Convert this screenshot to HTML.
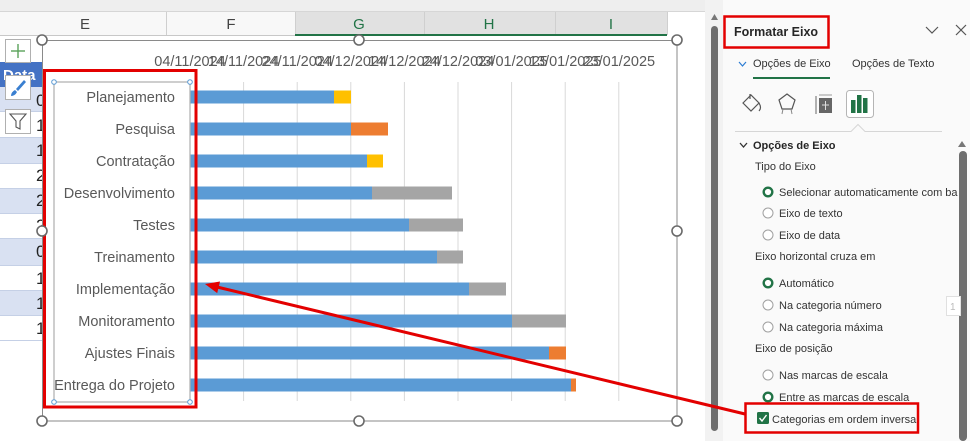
<!DOCTYPE html>
<html><head><meta charset="utf-8"><style>
html,body{margin:0;padding:0;background:#fff;}
svg{display:block;}
text{font-family:"Liberation Sans",Arial,sans-serif;}
</style></head><body>
<svg width="970" height="441" viewBox="0 0 970 441" xmlns="http://www.w3.org/2000/svg">
<rect x="0" y="0" width="970" height="441" fill="#fff"/>
<!-- top strip -->
<rect x="0" y="0" width="705" height="11" fill="#eeeeee"/>
<line x1="0" y1="11.5" x2="705" y2="11.5" stroke="#d6d6d6"/>
<!-- column header -->
<rect x="0" y="12" width="295" height="23" fill="#f8f8f8"/>
<rect x="295" y="12" width="372" height="23" fill="#e1e1e1"/>
<g stroke="#cfcfcf"><line x1="166.5" y1="12" x2="166.5" y2="35"/><line x1="295.5" y1="12" x2="295.5" y2="35"/><line x1="424.5" y1="12" x2="424.5" y2="35"/><line x1="555.5" y1="12" x2="555.5" y2="35"/><line x1="667.5" y1="12" x2="667.5" y2="35"/></g>
<line x1="0" y1="35.5" x2="295" y2="35.5" stroke="#c8c8c8"/>
<rect x="295" y="34" width="372" height="2" fill="#217346"/>
<g font-size="15" text-anchor="middle">
<text x="85" y="29" fill="#444">E</text><text x="231" y="29" fill="#444">F</text>
<text x="359" y="29" fill="#217346">G</text><text x="489" y="29" fill="#217346">H</text><text x="611" y="29" fill="#217346">I</text>
</g>
<!-- left table cells -->
<rect x="0" y="62" width="42" height="25" fill="#4472c4"/>
<text x="3" y="80" font-size="15" font-weight="bold" fill="#fff">Data</text>
<rect x="0" y="87" width="42" height="24" fill="#d9e1f2"/>
<rect x="0" y="137" width="42" height="26" fill="#d9e1f2"/>
<rect x="0" y="188" width="42" height="25" fill="#d9e1f2"/>
<rect x="0" y="238" width="42" height="27" fill="#d9e1f2"/>
<rect x="0" y="290" width="42" height="25" fill="#d9e1f2"/>
<g stroke="#c5d0e6"><line x1="0" y1="111.5" x2="42" y2="111.5"/><line x1="0" y1="137.5" x2="42" y2="137.5"/><line x1="0" y1="163.5" x2="42" y2="163.5"/><line x1="0" y1="188.5" x2="42" y2="188.5"/><line x1="0" y1="213.5" x2="42" y2="213.5"/><line x1="0" y1="238.5" x2="42" y2="238.5"/><line x1="0" y1="265.5" x2="42" y2="265.5"/><line x1="0" y1="290.5" x2="42" y2="290.5"/><line x1="0" y1="315.5" x2="42" y2="315.5"/><line x1="0" y1="340.5" x2="42" y2="340.5"/></g>
<g font-size="17" fill="#222">
<text x="36" y="106">0</text><text x="36" y="131">1</text><text x="36" y="156">1</text><text x="36" y="181">2</text><text x="36" y="206">2</text><text x="36" y="231">2</text><text x="36" y="257">0</text><text x="36" y="284">1</text><text x="36" y="309">1</text><text x="36" y="334">1</text>
</g>
<!-- chart area -->
<rect x="42.5" y="40.5" width="634.5" height="380.5" fill="#fff" stroke="#8a8a8a" stroke-width="1"/>
<g stroke="#d9d9d9" stroke-width="1">
<line x1="243.6" y1="82" x2="243.6" y2="401"/><line x1="297.2" y1="82" x2="297.2" y2="401"/><line x1="350.8" y1="82" x2="350.8" y2="401"/><line x1="404.4" y1="82" x2="404.4" y2="401"/><line x1="458" y1="82" x2="458" y2="401"/><line x1="511.6" y1="82" x2="511.6" y2="401"/><line x1="565.2" y1="82" x2="565.2" y2="401"/><line x1="618.8" y1="82" x2="618.8" y2="401"/>
</g>
<g font-size="14.5" fill="#595959" text-anchor="middle">
<text x="190" y="66">04/11/2024</text><text x="243.6" y="66">14/11/2024</text><text x="297.2" y="66">24/11/2024</text><text x="350.8" y="66">04/12/2024</text><text x="404.4" y="66">14/12/2024</text><text x="458" y="66">24/12/2024</text><text x="511.6" y="66">03/01/2025</text><text x="565.2" y="66">13/01/2025</text><text x="618.8" y="66">23/01/2025</text>
</g>
<!-- bars -->
<g>
<rect x="190" y="90.5" width="144" height="13" fill="#5b9bd5"/><rect x="334" y="90.5" width="17" height="13" fill="#ffc000"/>
<rect x="190" y="122.5" width="161" height="13" fill="#5b9bd5"/><rect x="351" y="122.5" width="37" height="13" fill="#ed7d31"/>
<rect x="190" y="154.5" width="177" height="13" fill="#5b9bd5"/><rect x="367" y="154.5" width="16" height="13" fill="#ffc000"/>
<rect x="190" y="186.5" width="182" height="13" fill="#5b9bd5"/><rect x="372" y="186.5" width="80" height="13" fill="#a5a5a5"/>
<rect x="190" y="218.5" width="219" height="13" fill="#5b9bd5"/><rect x="409" y="218.5" width="54" height="13" fill="#a5a5a5"/>
<rect x="190" y="250.5" width="247" height="13" fill="#5b9bd5"/><rect x="437" y="250.5" width="26" height="13" fill="#a5a5a5"/>
<rect x="190" y="282.5" width="279" height="13" fill="#5b9bd5"/><rect x="469" y="282.5" width="37" height="13" fill="#a5a5a5"/>
<rect x="190" y="314.5" width="322" height="13" fill="#5b9bd5"/><rect x="512" y="314.5" width="54" height="13" fill="#a5a5a5"/>
<rect x="190" y="346.5" width="359" height="13" fill="#5b9bd5"/><rect x="549" y="346.5" width="17" height="13" fill="#ed7d31"/>
<rect x="190" y="378.5" width="381" height="13" fill="#5b9bd5"/><rect x="571" y="378.5" width="5" height="13" fill="#ed7d31"/>
</g>
<!-- category labels -->
<g font-size="14.5" fill="#595959" text-anchor="end">
<text x="175" y="102">Planejamento</text><text x="175" y="134">Pesquisa</text><text x="175" y="166">Contratação</text><text x="175" y="198">Desenvolvimento</text><text x="175" y="230">Testes</text><text x="175" y="262">Treinamento</text><text x="175" y="294">Implementação</text><text x="175" y="326">Monitoramento</text><text x="175" y="358">Ajustes Finais</text><text x="175" y="390">Entrega do Projeto</text>
</g>
<!-- label selection box -->
<rect x="54" y="82" width="136" height="320" fill="none" stroke="#b3b3b3" stroke-width="1.3"/>
<g fill="#fff" stroke="#5b9bd5" stroke-width="1"><circle cx="54" cy="82" r="2.3"/><circle cx="190" cy="82" r="2.3"/><circle cx="54" cy="402" r="2.3"/><circle cx="190" cy="402" r="2.3"/></g>
<!-- red highlight box -->
<rect x="44.5" y="70.5" width="151.5" height="336.5" fill="none" stroke="#e30000" stroke-width="3"/>
<!-- chart handles -->
<g fill="#fff" stroke="#6a6a6a" stroke-width="1.6">
<circle cx="42" cy="40" r="5"/><circle cx="359" cy="40" r="5"/><circle cx="677" cy="40" r="5"/><circle cx="42" cy="231" r="5"/><circle cx="677" cy="231" r="5"/><circle cx="42" cy="421" r="5"/><circle cx="359" cy="421" r="5"/><circle cx="677" cy="421" r="5"/>
</g>
<!-- chart buttons -->
<g fill="#fff" stroke="#b0b0b0" stroke-width="1">
<rect x="5.5" y="39.5" width="25" height="23"/><rect x="5.5" y="75.5" width="25" height="24"/><rect x="5.5" y="109.5" width="25" height="24"/>
</g>
<g stroke="#5ba35b" stroke-width="1.4"><line x1="18" y1="44" x2="18" y2="58"/><line x1="11" y1="51" x2="25" y2="51"/></g>
<path d="M24 80 L16 89 L18 91 L26 82 Z" fill="#3a7fd0"/>
<path d="M15 90 Q11 92 11 96 Q15 96 17 92 Z" fill="#3a7fd0"/>
<path d="M10 114 L26 114 L20 121 L20 129 L16 127 L16 121 Z" fill="none" stroke="#555" stroke-width="1.1"/>
<!-- scrollbar column -->
<rect x="705" y="0" width="18" height="441" fill="#f2f2f2"/>
<path d="M711 20 L714.5 14 L718 20 Z" fill="#777"/>
<rect x="711" y="26" width="7" height="405" rx="3.5" fill="#6e6e6e"/>
<!-- pane -->
<rect x="723" y="0" width="247" height="441" fill="#fafafa"/>
<rect x="724.5" y="16.5" width="104" height="31" fill="none" stroke="#e30000" stroke-width="2.5"/>
<text x="734" y="36" font-size="12.5" font-weight="bold" fill="#262626">Formatar Eixo</text>
<polyline points="926,27 932,33 938,27" fill="none" stroke="#555" stroke-width="1.2"/>
<g stroke="#555" stroke-width="1.2"><line x1="956" y1="25" x2="966" y2="35"/><line x1="966" y1="25" x2="956" y2="35"/></g>
<polyline points="739,62 742.5,66 746,62" fill="none" stroke="#2b7cd3" stroke-width="1.2"/>
<g font-size="11" fill="#333">
<text x="753" y="67">Opções de Eixo</text><text x="852" y="67">Opções de Texto</text>
</g>
<rect x="753" y="77" width="77" height="2" fill="#217346"/>
<!-- icons -->
<path d="M743 103 L751 95 L759 103 L751 111 Z" fill="none" stroke="#555" stroke-width="1.2"/>
<path d="M750 94 L750 99" stroke="#555" stroke-width="1.2"/>
<path d="M759 103 Q762 108 759 111" fill="none" stroke="#555" stroke-width="1.2"/>
<path d="M787 94 L795 100 L792 109 L782 109 L779 100 Z" fill="none" stroke="#555" stroke-width="1.2"/>
<path d="M783 109 L782 114 M791 109 L792 114" stroke="#888" stroke-width="1"/>
<line x1="816" y1="96" x2="816" y2="114" stroke="#666"/>
<rect x="819" y="98" width="13" height="15" fill="#666"/>
<path d="M822 105 L829 105 M825.5 101 L825.5 110" stroke="#ddd" stroke-width="1"/>
<line x1="819" y1="95" x2="832" y2="95" stroke="#999"/>
<rect x="846.5" y="90.5" width="27" height="27" rx="3" fill="#fff" stroke="#b5b5b5"/>
<rect x="851" y="100" width="4.5" height="13" fill="#217346"/><rect x="857" y="95" width="4.5" height="18" fill="#217346"/><rect x="863" y="98" width="4.5" height="15" fill="#217346"/>
<polyline points="735,131.5 851,131.5 858,124.5 865,131.5 942,131.5" fill="none" stroke="#d6d6d6"/>
<!-- section -->
<polyline points="740,143 743.5,147 747,143" fill="none" stroke="#333" stroke-width="1.3"/>
<text x="753" y="149" font-size="11" font-weight="bold" fill="#262626">Opções de Eixo</text>
<path d="M958 147 L962 141 L966 147 Z" fill="#777"/>
<rect x="959" y="151" width="8" height="290" rx="4" fill="#6e6e6e"/>
<g font-size="11" fill="#333">
<text x="755" y="170">Tipo do Eixo</text>
<text x="779" y="196">Selecionar automaticamente com ba</text>
<text x="779" y="217">Eixo de texto</text>
<text x="779" y="239">Eixo de data</text>
<text x="755" y="260">Eixo horizontal cruza em</text>
<text x="779" y="287">Automático</text>
<text x="779" y="309">Na categoria número</text>
<text x="779" y="331">Na categoria máxima</text>
<text x="755" y="352">Eixo de posição</text>
<text x="779" y="379">Nas marcas de escala</text>
<text x="779" y="401">Entre as marcas de escala</text>
<text x="772" y="423">Categorias em ordem inversa</text>
</g>
<g fill="#fff" stroke="#217346" stroke-width="2.4"><circle cx="768" cy="192" r="4.3"/><circle cx="768" cy="283" r="4.3"/><circle cx="768" cy="397" r="4.3"/></g>
<g fill="#fff" stroke="#a0a0a0" stroke-width="1"><circle cx="768" cy="213" r="5"/><circle cx="768" cy="235" r="5"/><circle cx="768" cy="305" r="5"/><circle cx="768" cy="327" r="5"/><circle cx="768" cy="375" r="5"/></g>
<rect x="946.5" y="296.5" width="14" height="19" fill="#fff" stroke="#e0e0e0"/>
<text x="950" y="310" font-size="10" fill="#bbb">1</text>
<rect x="757" y="412" width="12" height="12" rx="1.5" fill="#217346"/>
<polyline points="759.5,418 762
,421 766.5,415" fill="none" stroke="#fff" stroke-width="1.4"/>
<rect x="745.5" y="403.5" width="172.5" height="29" fill="none" stroke="#e30000" stroke-width="2.5"/>
<!-- red arrow -->
<line x1="745" y1="414" x2="217" y2="287" stroke="#e30000" stroke-width="3"/>
<polygon points="205,284 220,281.5 217.2,293.1" fill="#e30000"/>
</svg>
</body></html>
